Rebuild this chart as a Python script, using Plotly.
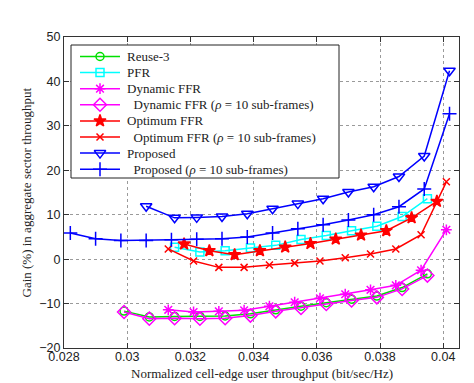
import plotly.graph_objects as go

# ---- data ----
reuse3_x = [0.0299, 0.0307, 0.0315, 0.0323, 0.0331, 0.0339, 0.0347, 0.0355, 0.0363, 0.0371, 0.0379, 0.0387, 0.0395]
reuse3_y = [-11.7, -13.0, -12.9, -12.9, -12.8, -12.3, -11.4, -10.6, -9.8, -9.0, -8.3, -6.4, -3.3]

pfr_x = [0.0315, 0.0323, 0.0331, 0.0339, 0.0347, 0.0355, 0.0363, 0.0371, 0.0379, 0.0387, 0.0395]
pfr_y = [2.7, 1.6, 1.9, 2.5, 3.1, 4.4, 5.3, 6.4, 7.4, 9.6, 13.6]

dffr_x = [0.0313, 0.0321, 0.0329, 0.0337, 0.0345, 0.0353, 0.0361, 0.0369, 0.0377, 0.0385, 0.0393, 0.0401]
dffr_y = [-11.4, -11.9, -11.75, -11.5, -10.6, -9.7, -8.8, -7.9, -6.9, -5.9, -2.5, 6.6]

dffr10_x = [0.0299, 0.0307, 0.0315, 0.0323, 0.0331, 0.0339, 0.0347, 0.0355, 0.0363, 0.0371, 0.0379, 0.0387, 0.0395]
dffr10_y = [-11.9, -13.4, -13.3, -13.4, -13.3, -12.7, -11.75, -11.0, -10.1, -9.3, -8.6, -6.7, -3.7]

offr_x = [0.0318, 0.0326, 0.0334, 0.0342, 0.0350, 0.0358, 0.0366, 0.0374, 0.0382, 0.0390, 0.0398]
offr_y = [3.4, 1.9, 1.0, 1.9, 2.7, 3.5, 4.5, 5.4, 6.4, 9.3, 13.0]

offr10_x = [0.0313, 0.0321, 0.0329, 0.0337, 0.0345, 0.0353, 0.0361, 0.0369, 0.0377, 0.0385, 0.0393, 0.0401]
offr10_y = [2.3, -0.4, -1.85, -1.85, -1.3, -0.9, -0.4, 0.3, 1.15, 2.3, 5.5, 17.4]

prop_x = [0.0306, 0.0315, 0.0322, 0.0330, 0.0338, 0.0346, 0.0354, 0.0362, 0.0370, 0.0378, 0.0386, 0.0394, 0.0402]
prop_y = [11.9, 9.3, 9.4, 9.6, 10.2, 11.35, 12.5, 13.6, 15.1, 16.3, 18.6, 23.2, 42.4]

prop10_x = [0.0282, 0.0290, 0.0298, 0.0306, 0.0314, 0.0322, 0.0330, 0.0338, 0.0346, 0.0354, 0.0362, 0.0370, 0.0378, 0.0386, 0.0394, 0.0402]
prop10_y = [5.9, 4.6, 4.2, 4.2, 4.35, 4.5, 4.6, 5.0, 5.9, 6.85, 7.75, 8.8, 10.0, 11.8, 15.8, 32.7]

names = [
    "Reuse-3",
    "PFR",
    "Dynamic FFR",
    "\u00a0\u00a0Dynamic FFR (<i>ρ</i> = 10 sub-frames)",
    "Optimum FFR",
    "\u00a0\u00a0Optimum FFR (<i>ρ</i> = 10 sub-frames)",
    "Proposed",
    "\u00a0\u00a0Proposed (<i>ρ</i> = 10 sub-frames)",
]

x_tickvals = [0.028, 0.030, 0.032, 0.034, 0.036, 0.038, 0.040]
x_ticktext = ["0.028", "0.03", "0.032", "0.034", "0.036", "0.038", "0.04"]
y_tickvals = [-20, -10, 0, 10, 20, 30, 40, 50]

x_title = "Normalized cell-edge user throughput (bit/sec/Hz)"
y_title = "Gain (%) in aggregate sector throughput"

GREEN = "#00e000"
CYAN = "#00ffff"
MAG = "#ff00ff"
RED = "#ff0000"
BLUE = "#0000ff"

SERIF = "Liberation Serif, Times New Roman, serif"
SANS = "Liberation Sans, Arial, sans-serif"
TXT = "#222222"

series = [
    (reuse3_x, reuse3_y, GREEN, "circle-open", 8),
    (pfr_x, pfr_y, CYAN, "square-open", 8),
    (dffr_x, dffr_y, MAG, "asterisk-open", 9),
    (dffr10_x, dffr10_y, MAG, "diamond-open", 10),
    (offr_x, offr_y, RED, "star", 9),
    (offr10_x, offr10_y, RED, "x-thin-open", 7),
    (prop_x, prop_y, BLUE, "triangle-down-open", 10),
    (prop10_x, prop10_y, BLUE, "cross-thin-open", 10),
]

fig = go.Figure()

for (x, y, color, symbol, size), name in zip(series, names):
    fig.add_trace(go.Scatter(
        x=x, y=y, name=name, mode="lines+markers", showlegend=False,
        line=dict(color=color, width=1.5),
        marker=dict(symbol=symbol, size=size, color=color,
                    line=dict(color=color, width=1.5)),
    ))

# ---- legend drawn on an overlay axis measured in page pixels ----
PLOT_L, PLOT_R, PLOT_T, PLOT_B = 56, 451, 29, 340
BOX_L, BOX_R, BOX_T, BOX_B = 63, 331, 37, 170
ROW0, ROW_H = 48.5, 16.1
LINE_L, LINE_R = 72, 112
TEXT_X = 117

fig.add_trace(go.Scatter(
    x=[BOX_L, BOX_R, BOX_R, BOX_L, BOX_L], y=[BOX_T, BOX_T, BOX_B, BOX_B, BOX_T],
    xaxis="x2", yaxis="y2", mode="lines", fill="toself", fillcolor="white",
    line=dict(color="#222222", width=1), showlegend=False, hoverinfo="skip",
))
for i, ((x, y, color, symbol, size), name) in enumerate(zip(series, names)):
    ry = ROW0 + i * ROW_H
    fig.add_trace(go.Scatter(
        x=[LINE_L, LINE_R], y=[ry, ry], xaxis="x2", yaxis="y2", mode="lines",
        line=dict(color=color, width=1.5), showlegend=False, hoverinfo="skip",
    ))
    fig.add_trace(go.Scatter(
        x=[(LINE_L + LINE_R) / 2], y=[ry], xaxis="x2", yaxis="y2", mode="markers",
        marker=dict(symbol=symbol, size=size, color=color, line=dict(color=color, width=1.5)),
        showlegend=False, hoverinfo="skip",
    ))
    fig.add_annotation(
        x=TEXT_X, y=ry, xref="x2", yref="y2", text=name, showarrow=False,
        xanchor="left", yanchor="middle",
        font=dict(family=SERIF, size=13, color=TXT),
    )

# axis titles (placed as in the reference)
fig.add_annotation(
    x=0.5, y=(PLOT_B - 365) / (PLOT_B - PLOT_T), xref="paper", yref="paper",
    text=x_title, showarrow=False, xanchor="center", yanchor="middle",
    font=dict(family=SERIF, size=13, color=TXT),
)
fig.add_annotation(
    x=(18 - PLOT_L) / (PLOT_R - PLOT_L), y=0.5, xref="paper", yref="paper",
    text=y_title, showarrow=False, textangle=-90, xanchor="center", yanchor="middle",
    font=dict(family=SERIF, size=13, color=TXT),
)

axis_common = dict(
    showline=True, linecolor="#333333", linewidth=1, mirror="ticks",
    ticks="inside", ticklen=5, tickcolor="#333333",
    showgrid=True, gridcolor="#9a9a9a", griddash="dot", gridwidth=1,
    zeroline=False,
    tickfont=dict(family=SANS, size=12.5, color=TXT),
)

fig.update_xaxes(range=[0.028, 0.0405], tickvals=x_tickvals, ticktext=x_ticktext,
                 ticklabelstandoff=-3, **axis_common)
fig.update_yaxes(range=[-20, 50], tickvals=y_tickvals, **axis_common)

fig.update_layout(
    width=474, height=383,
    margin=dict(l=PLOT_L, r=474 - PLOT_R, t=PLOT_T, b=383 - PLOT_B),
    paper_bgcolor="white", plot_bgcolor="white",
    showlegend=False,
    xaxis2=dict(overlaying="x", range=[PLOT_L, PLOT_R], visible=False, fixedrange=True),
    yaxis2=dict(overlaying="y", range=[PLOT_B, PLOT_T], visible=False, fixedrange=True),
)

fig.write_html("out.html")
